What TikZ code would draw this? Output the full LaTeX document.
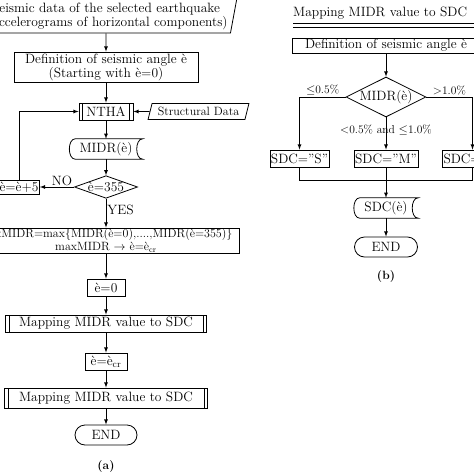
\documentclass[tikz,border=0pt]{standalone}
\usepackage{tikz}
\usetikzlibrary{shapes}
\usetikzlibrary{shapes.geometric}
\usetikzlibrary{shapes.misc}
\usetikzlibrary{positioning}
\usetikzlibrary{arrows.meta}
\tikzset{
    txt/.style = {font=\fontsize{13.5}{14}\selectfont},
    procbox/.style = {rectangle, line width=0.8pt, draw=black, inner sep=1pt, align=center, txt},
    subbox/.style = {procbox, path picture={
        \draw[line width=0.8pt] ([xshift=3.5pt]path picture bounding box.north west) -- ([xshift=3.5pt]path picture bounding box.south west);
        \draw[line width=0.8pt] ([xshift=-3.5pt]path picture bounding box.north east) -- ([xshift=-3.5pt]path picture bounding box.south east);}},
    iobox/.style = {trapezium, trapezium stretches=true, line width=0.8pt, draw=black, inner xsep=0pt, inner ysep=1pt, align=center, txt},
    decbox/.style = {diamond, line width=0.8pt, draw=black, inner sep=0pt, txt},
    storebox/.style = {rectangle, inner sep=1pt, txt},
    termbox/.style = {rounded rectangle, line width=0.8pt, draw=black, inner sep=1pt, txt},
    lab/.style = {font=\fontsize{11.5}{12}\selectfont, inner sep=1pt},
    yn/.style = {txt, inner sep=1pt},
    capt/.style = {font=\bfseries\fontsize{12}{12}\selectfont},
    edgen/.style = {-latex, line width=0.8pt},
    edgel/.style = {line width=0.8pt},
}
% outline of a stored data box
\newcommand{\storeline}[1]{\draw[edgel] ([xshift=6pt]#1.north west) -- (#1.north east) to[out=180,in=180] (#1.south east) -- ([xshift=6pt]#1.south west) to[out=180,in=180] ([xshift=6pt]#1.north west);}

\begin{document}
\begin{tikzpicture}[x=1pt,y=-1pt]
\useasboundingbox (0,0) rectangle (474,474);
% (a)
\node[iobox, trapezium left angle=78, trapezium right angle=102, minimum width=262pt, minimum height=34pt] at (106,16) (seis) {Seismic data of the selected earthquake\\(Accelerograms of horizontal components)};
\node[procbox, minimum width=184pt, minimum height=30pt] at (106,67) (defa) {Definition of seismic angle è\\(Starting with è=0)};
\node[subbox, minimum width=54pt, minimum height=17pt] at (106,111.5) (ntha) {NTHA};
\node[iobox, trapezium left angle=72, trapezium right angle=108, minimum width=101pt, minimum height=16pt, font=\fontsize{12}{12}\selectfont] at (198.5,111.5) (strd) {Structural Data};
\node[storebox, minimum width=73pt, minimum height=20pt] at (106,149) (midr) {MIDR(è)};
\storeline{midr}
\node[decbox, aspect=2.8] at (106,187) (dec) {è=355};
\node[procbox, minimum width=40pt, minimum height=14pt] at (19,187) (inc) {è=è+5};
\node[procbox, minimum width=266pt, minimum height=25pt, inner ysep=0.5pt, font=\fontsize{12}{12.8}\selectfont] at (106,240.5) (maxm) {maxMIDR=max\{MIDR(è=0),....,MIDR(è=355)\}\\maxMIDR $\rightarrow$ è=è\textsubscript{cr}};
\node[procbox, minimum width=38pt, minimum height=17pt] at (106,287.5) (zero) {è=0};
\node[subbox, minimum width=201pt, minimum height=17pt] at (106,323.5) (mapa) {Mapping MIDR value to SDC};
\node[procbox, minimum width=42pt, minimum height=17pt] at (106,361.5) (ecr) {è=è\textsubscript{cr}};
\node[subbox, minimum width=203pt, minimum height=20pt] at (106,398) (mapb) {Mapping MIDR value to SDC};
\node[termbox, minimum width=64pt, minimum height=20pt] at (106,435) (enda) {END};
\node[capt] at (106,466) (capa) {(a)};
%
\draw[edgen] (seis) -- (defa);
\draw[edgen] (defa) -- (ntha);
\draw[edgen] (strd) -- (ntha);
\draw[edgen] (ntha) -- (midr);
\draw[edgen] (midr) -- (dec);
\draw[edgen] (dec) -- node[yn, above, pos=0.35] {NO} (inc);
\draw[edgen] (inc) |- (ntha);
\draw[edgen] (dec) -- node[yn, right, pos=0.4] {YES} (maxm);
\draw[edgen] (maxm) -- (zero);
\draw[edgen] (zero) -- (mapa);
\draw[edgen] (mapa) -- (ecr);
\draw[edgen] (ecr) -- (mapb);
\draw[edgen] (mapb) -- (enda);
% (b)
\node[txt, anchor=west, inner sep=0pt] at (293,13) (ttl) {Mapping MIDR value to SDC};
\coordinate (ula) at (293,23);
\coordinate (ulb) at (480,23);
\coordinate (ulc) at (293,27);
\coordinate (uld) at (480,27);
\draw[edgel] (ula) -- (ulb);
\draw[edgel] (ulc) -- (uld);
\node[procbox, minimum width=188pt, minimum height=15pt, inner ysep=0.5pt] at (386,45.5) (defb) {Definition of seismic angle è};
\node[decbox, aspect=2] at (386,97) (decb) {MIDR(è)};
\node[procbox, minimum width=57pt, minimum height=17pt] at (299.5,158.5) (sdcs) {SDC="S"};
\node[procbox, minimum width=63pt, minimum height=17pt] at (386,158.5) (sdcm) {SDC="M"};
\node[procbox, minimum width=61pt, minimum height=17pt] at (472.5,158.5) (sdcl) {SDC="L"};
\coordinate (jl) at (299.5,180);
\coordinate (jm) at (386,180);
\coordinate (jr) at (472.5,180);
\node[storebox, minimum width=64pt, minimum height=20pt] at (386,208) (sdcb) {SDC(è)};
\storeline{sdcb}
\node[termbox, minimum width=65pt, minimum height=20pt] at (386,247) (endb) {END};
\node[capt] at (386,277) (capb) {(b)};
%
\draw[edgen] (defb) -- (decb);
\draw[edgen] (decb) -| node[lab, above, pos=0.25] {$\leq$0.5\%} (sdcs);
\draw[edgen] (decb) -| node[lab, above, pos=0.25] {$>$1.0\%} (sdcl);
\draw[edgen] (decb) -- node[lab, pos=0.4] {$<$0.5\% and $\leq$1.0\%} (sdcm);
\draw[edgel] (sdcs) -- (jl) -- (jr) -- (sdcl);
\draw[edgel] (sdcm) -- (jm);
\draw[edgen] (jm) -- (sdcb);
\draw[edgen] (sdcb) -- (endb);
\end{tikzpicture}
\end{document}
